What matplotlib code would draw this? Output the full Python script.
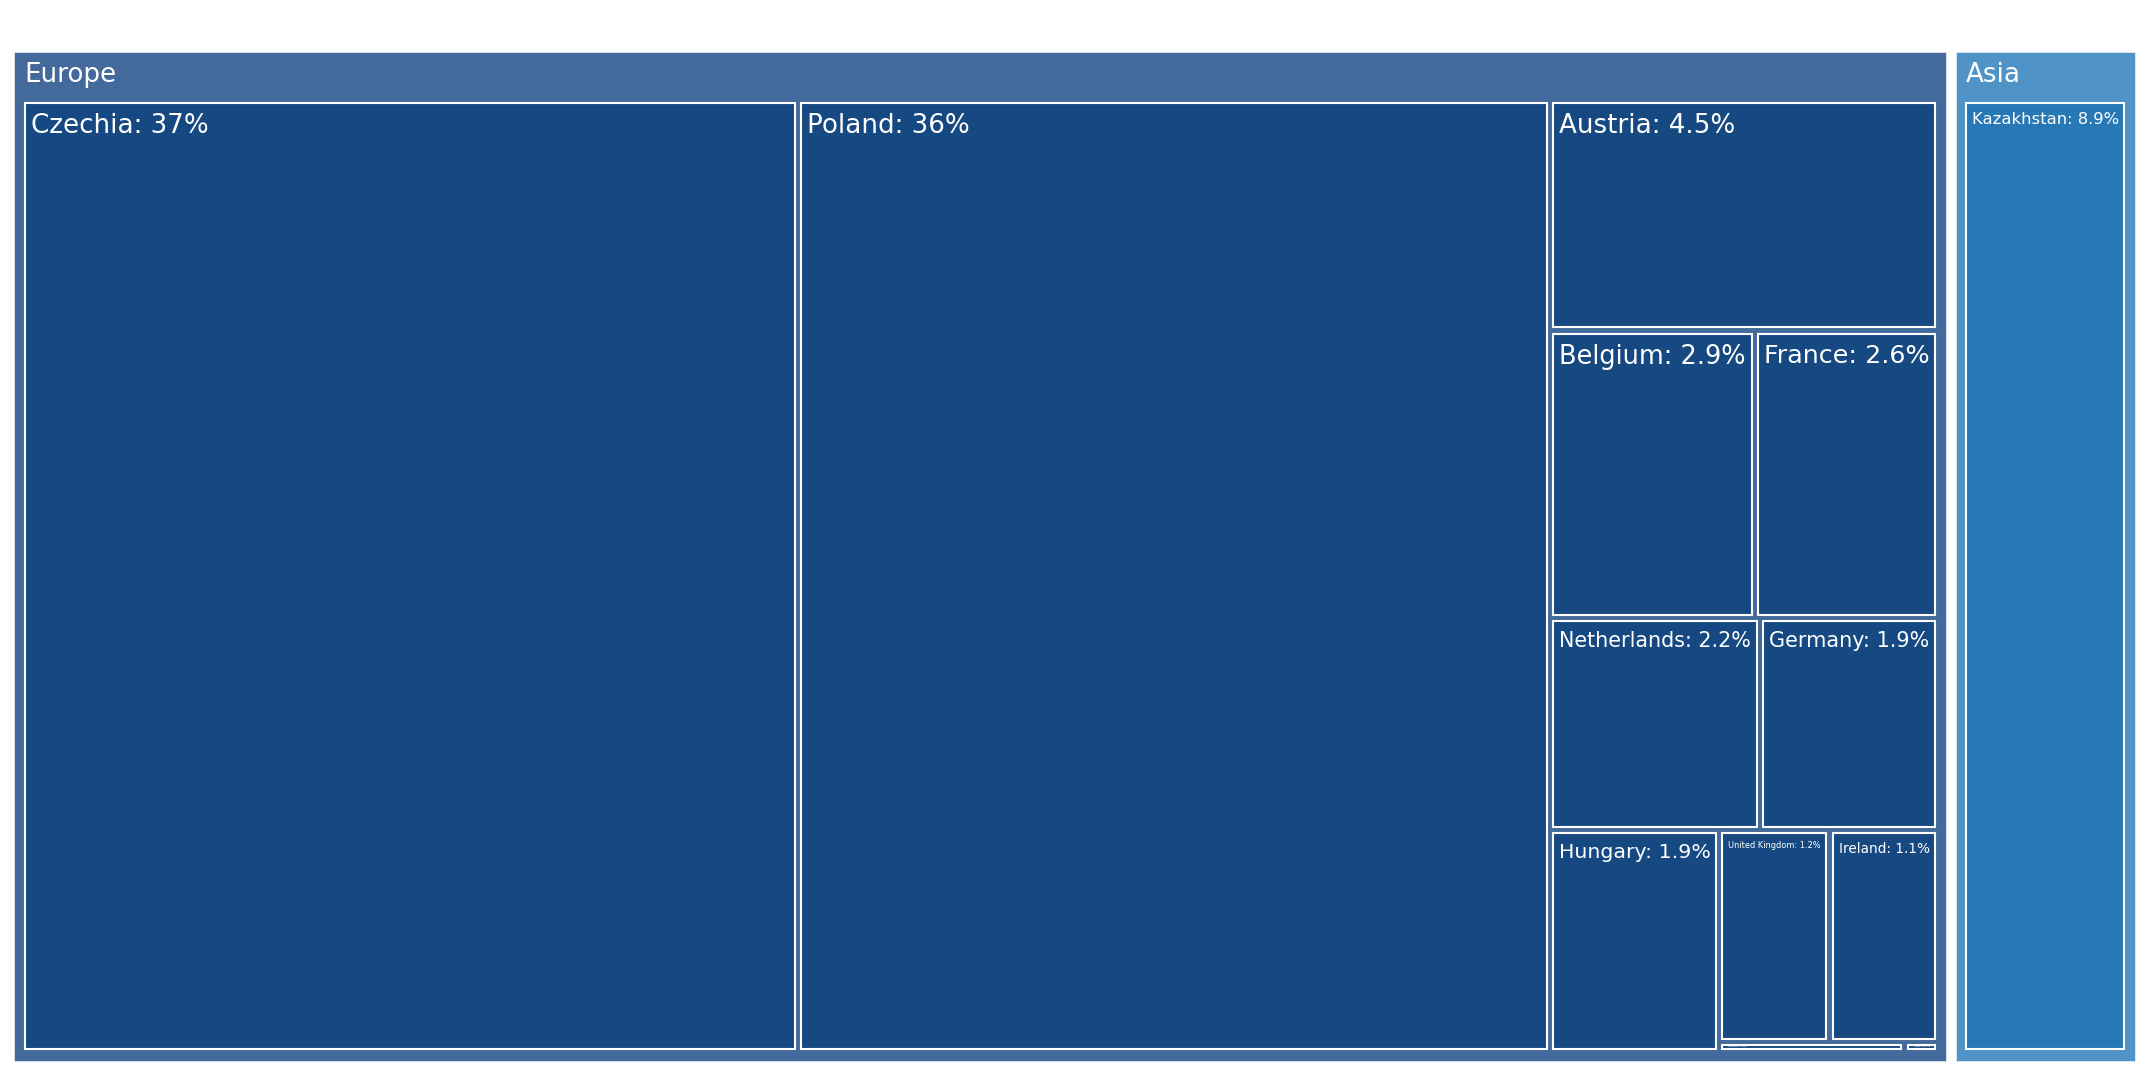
#!/usr/bin/env python3
"""
Treemap by region and country (share of total, %).
Squarified layout written out here so no extra package is needed.
"""

import matplotlib
matplotlib.use("Agg")
import matplotlib.pyplot as plt
from matplotlib.patches import Rectangle

# ---- data -------------------------------------------------------------
regions = ["Europe", "Asia"]

europe_countries = ["Czechia", "Poland", "Austria", "Belgium", "France",
                    "Netherlands", "Germany", "Hungary", "United Kingdom",
                    "Ireland", "Slovakia", "Spain"]
europe_share = [37.0, 35.8, 4.48, 2.95, 2.64, 2.23, 1.89, 1.88, 1.17,
                1.15, 0.094, 0.017]

asia_countries = ["Kazakhstan"]
asia_share = [8.9]

# ---- style ------------------------------------------------------------
W, H = 2150, 1075
DPI = 100
region_colors = {"Europe": "#436a9b", "Asia": "#4f93c7"}
leaf_colors = {"Europe": "#164981", "Asia": "#2878b5"}
MAX_FONT = 18.8


# ---- squarify (Bruls et al.) ------------------------------------------
def layout_row(sizes, x, y, dx, dy):
    width = sum(sizes) / dy
    rects = []
    for s in sizes:
        rects.append((x, y, width, s / width))
        y += s / width
    return rects


def layout_col(sizes, x, y, dx, dy):
    height = sum(sizes) / dx
    rects = []
    for s in sizes:
        rects.append((x, y, s / height, height))
        x += s / height
    return rects


def layout(sizes, x, y, dx, dy):
    if dx >= dy:
        return layout_row(sizes, x, y, dx, dy)
    return layout_col(sizes, x, y, dx, dy)


def leftover(sizes, x, y, dx, dy):
    if dx >= dy:
        w = sum(sizes) / dy
        return x + w, y, dx - w, dy
    h = sum(sizes) / dx
    return x, y + h, dx, dy - h


def worst_ratio(sizes, x, y, dx, dy):
    return max(max(r[2] / r[3], r[3] / r[2])
               for r in layout(sizes, x, y, dx, dy))


def squarify(values, x, y, dx, dy):
    total = sum(values)
    sizes = [v * dx * dy / total for v in values]
    return _squarify(sizes, x, y, dx, dy)


def _squarify(sizes, x, y, dx, dy):
    if len(sizes) == 0:
        return []
    if len(sizes) == 1:
        return layout(sizes, x, y, dx, dy)
    i = 1
    while i < len(sizes) and (worst_ratio(sizes[:i], x, y, dx, dy)
                              >= worst_ratio(sizes[:i + 1], x, y, dx, dy)):
        i += 1
    lx, ly, ldx, ldy = leftover(sizes[:i], x, y, dx, dy)
    return layout(sizes[:i], x, y, dx, dy) + _squarify(sizes[i:], lx, ly, ldx, ldy)


# ---- drawing helpers --------------------------------------------------
def inset(rect, d):
    x, y, w, h = rect
    return x + d, y + d, w - 2 * d, h - 2 * d


def fit_label(ax, renderer, text, x, y, w, h, xoff):
    """Text anchored top-left, shrunk to fit the box width/height."""
    t = ax.text(x + xoff, y, text, color="white", fontsize=MAX_FONT,
                ha="left", va="top")
    tw = t.get_window_extent(renderer).width
    size = MAX_FONT * min(1.0, (w - xoff - 5) / tw)
    size = min(size, 0.6 * h * 72 / DPI)
    fpx = size * DPI / 72
    t.set_fontsize(size)
    t.set_y(y + min(7 + 0.12 * fpx, 0.2 * h))
    return t


fig = plt.figure(figsize=(W / DPI, H / DPI), dpi=DPI)
ax = fig.add_axes([0, 0, 1, 1])
ax.set_xlim(0, W)
ax.set_ylim(H, 0)
ax.axis("off")
renderer = fig.canvas.get_renderer()

children = {"Europe": (europe_countries, europe_share),
            "Asia": (asia_countries, asia_share)}
totals = [sum(children[r][1]) for r in regions]
grand_total = sum(totals)

# top level: regions
top_gap = 5
outer = (14 - top_gap, 52 - top_gap, 2121 + 2 * top_gap, 1009 + 2 * top_gap)
region_rects = squarify(totals, *outer)

for region, rrect in zip(regions, region_rects):
    rx, ry, rw, rh = inset(rrect, top_gap)
    ax.add_patch(Rectangle((rx, ry), rw, rh, facecolor=region_colors[region],
                           edgecolor="white", linewidth=0.4))
    ax.text(rx + 10.5, ry + 10, region, color="white", fontsize=MAX_FONT,
            ha="left", va="top")

    names, vals = children[region]
    order = sorted(range(len(vals)), key=lambda k: -vals[k])
    names = [names[k] for k in order]
    vals = [vals[k] for k in order]

    # area left for the countries below the region header
    cx, cy = rx + 7.5, ry + 48
    cw, ch = rw - 15, rh - 48 - 9
    leaf_rects = squarify(vals, cx, cy, cw, ch)
    for name, val, lrect in zip(names, vals, leaf_rects):
        lx, ly, lw, lh = inset(lrect, 3.2)
        ax.add_patch(Rectangle((lx, ly), lw, lh, facecolor=leaf_colors[region],
                               edgecolor="white", linewidth=1.5))
        pct = 100 * val / grand_total
        fit_label(ax, renderer, f"{name}: {pct:.2g}%", lx, ly, lw, lh, 6)

fig.savefig("out.png", dpi=DPI)
